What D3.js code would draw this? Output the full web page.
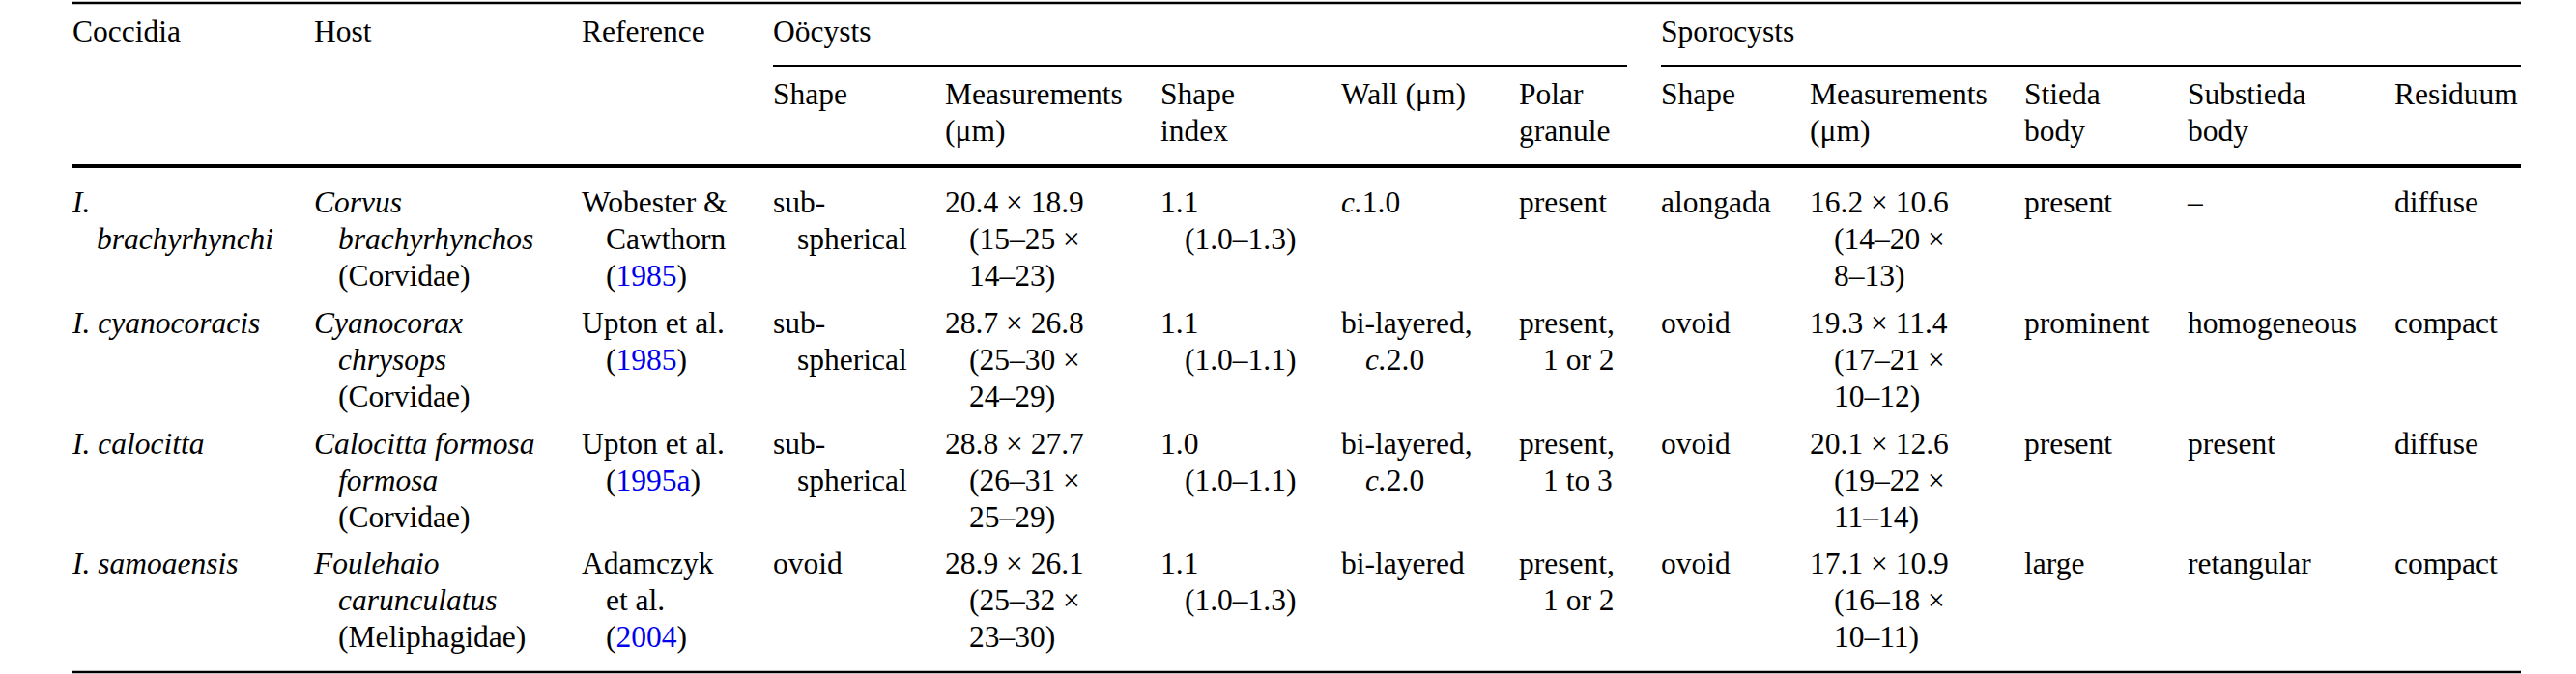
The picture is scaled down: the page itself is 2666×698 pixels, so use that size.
<!DOCTYPE html>
<html><head><meta charset="utf-8">
<script src="https://cdn.jsdelivr.net/npm/d3@7"></script>
<style>body{margin:0;background:#fff}</style></head>
<body><svg id="c" width="2666" height="698"></svg>
<script>
// Table content (markup: *italic*, {blue link})
const groupHeaders = ["Coccidia","Host","Reference","Oöcysts","Sporocysts"];
const subHeaders = [["Shape"],["Measurements","(μm)"],["Shape","index"],["Wall (μm)"],["Polar","granule"],
  ["Shape"],["Measurements","(μm)"],["Stieda","body"],["Substieda","body"],["Residuum"]];
const coccidia = [["*I.*","*brachyrhynchi*"],["*I. cyanocoracis*"],["*I. calocitta*"],["*I. samoaensis*"]];
const hosts = [["*Corvus*","*brachyrhynchos*","(Corvidae)"],["*Cyanocorax*","*chrysops*","(Corvidae)"],
  ["*Calocitta formosa*","*formosa*","(Corvidae)"],["*Foulehaio*","*carunculatus*","(Meliphagidae)"]];
const references = [["Wobester &","Cawthorn","({1985})"],["Upton et al.","({1985})"],["Upton et al.","({1995a})"],["Adamczyk","et al.","({2004})"]];
const oocystShape = [["sub-","spherical"],["sub-","spherical"],["sub-","spherical"],["ovoid"]];
const oocystMeas = [["20.4 × 18.9","(15–25 ×","14–23)"],["28.7 × 26.8","(25–30 ×","24–29)"],["28.8 × 27.7","(26–31 ×","25–29)"],["28.9 × 26.1","(25–32 ×","23–30)"]];
const shapeIndex = [["1.1","(1.0–1.3)"],["1.1","(1.0–1.1)"],["1.0","(1.0–1.1)"],["1.1","(1.0–1.3)"]];
const wall = [["*c.*1.0"],["bi-layered,","*c.*2.0"],["bi-layered,","*c.*2.0"],["bi-layered"]];
const polar = [["present"],["present,","1 or 2"],["present,","1 to 3"],["present,","1 or 2"]];
const sporoShape = [["alongada"],["ovoid"],["ovoid"],["ovoid"]];
const sporoMeas = [["16.2 × 10.6","(14–20 ×","8–13)"],["19.3 × 11.4","(17–21 ×","10–12)"],["20.1 × 12.6","(19–22 ×","11–14)"],["17.1 × 10.9","(16–18 ×","10–11)"]];
const stieda = [["present"],["prominent"],["present"],["large"]];
const substieda = [["–"],["homogeneous"],["present"],["retangular"]];
const residuum = [["diffuse"],["compact"],["diffuse"],["compact"]];

const columns = [coccidia,hosts,references,oocystShape,oocystMeas,shapeIndex,wall,polar,sporoShape,sporoMeas,stieda,substieda,residuum];
const colX = [75,325,602,800,978,1201,1388,1572,1719,1873,2095,2264,2478];
const left=75,right=2609, lh=38, indent=25;
const rowBase=[220,345,470,594];

const svg=d3.select("#c");
const g=svg.append("g").attr("font-family","'Liberation Serif','Times New Roman',serif").attr("font-size",31.5).attr("fill","#000");

function writeLine(sel, str){
  const re=/(\*[^*]+\*|\{[^}]+\})/g; let parts=str.split(re).filter(s=>s.length);
  parts.forEach(p=>{
    const t=sel.append("tspan");
    if(p[0]==="*"){t.attr("font-style","italic").text(p.slice(1,-1));}
    else if(p[0]==="{"){t.attr("fill","#0000ee").text(p.slice(1,-1));}
    else t.text(p);
  });
}
function cell(x,y,lines){
  lines.forEach((l,i)=>{
    const t=g.append("text").attr("x",x+(i?indent:0)).attr("y",y+i*lh);
    writeLine(t,l);
  });
}
// rules
const rule=(x1,x2,y,w)=>svg.append("line").attr("x1",x1).attr("x2",x2).attr("y1",y).attr("y2",y).attr("stroke","#000").attr("stroke-width",w);
rule(left,right,3,2.5);
rule(800,1684,68,2);
rule(1719,right,68,2);
rule(left,right,172,4);
rule(left,right,696,2.5);
// headers
[75,325,602,800,1719].forEach((x,i)=>cell(x,43,[groupHeaders[i]]));
subHeaders.forEach((h,i)=>h.forEach((l,j)=>g.append("text").attr("x",colX[i+3]).attr("y",108+j*lh).text(l)));
// body
columns.forEach((col,ci)=>col.forEach((lines,ri)=>cell(colX[ci],rowBase[ri],lines)));
</script></body></html>
